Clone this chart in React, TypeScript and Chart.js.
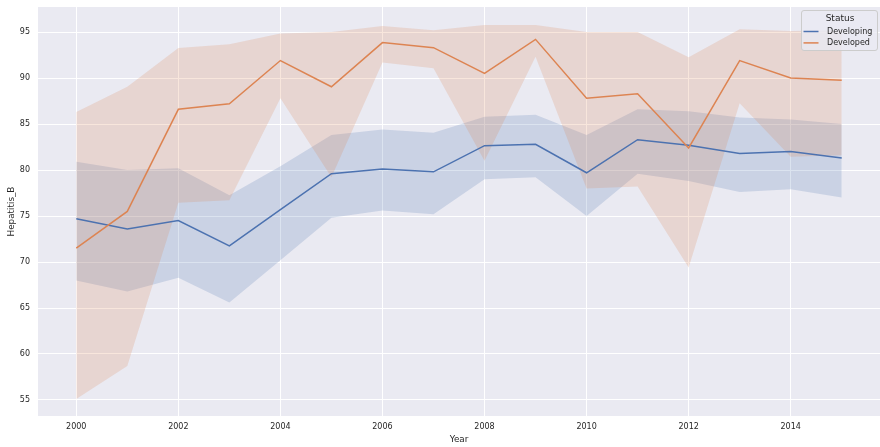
import React, { useEffect, useRef } from "react";
import { Chart, registerables } from "chart.js";

Chart.register(...registerables);

const years = [2000, 2001, 2002, 2003, 2004, 2005, 2006, 2007, 2008, 2009, 2010, 2011, 2012, 2013, 2014, 2015];

const developingMean = [74.7, 73.6, 74.5, 71.75, 75.7, 79.6, 80.1, 79.8, 82.65, 82.8, 79.7, 83.3, 82.7, 81.8, 82.0, 81.3];
const developingLow = [68.0, 66.8, 68.3, 65.6, 70.2, 74.8, 75.6, 75.2, 79.0, 79.2, 75.0, 79.6, 78.8, 77.6, 77.9, 77.0];
const developingHigh = [80.9, 80.0, 80.2, 77.25, 80.4, 83.8, 84.4, 84.05, 85.8, 86.0, 83.8, 86.6, 86.4, 85.7, 85.5, 85.0];

const developedMean = [71.5, 75.5, 86.6, 87.2, 91.9, 89.05, 93.85, 93.3, 90.5, 94.2, 87.8, 88.3, 82.4, 91.9, 90.0, 89.75];
const developedLow = [55.1, 58.7, 76.45, 76.7, 87.8, 79.2, 91.7, 91.05, 81.0, 92.3, 78.0, 78.2, 69.4, 87.25, 81.45, 81.6];
const developedHigh = [86.3, 89.05, 93.26, 93.66, 94.85, 95.0, 95.65, 95.2, 95.76, 95.76, 95.0, 95.0, 92.25, 95.3, 95.1, 95.2];

const seriesNames = ["Developing", "Developed"];
const legendTitle = "Status";
const xTitle = "Year";
const yTitle = "Hepatitis_B";
const xTickValues = [2000, 2002, 2004, 2006, 2008, 2010, 2012, 2014];
const yTickValues = [55, 60, 65, 70, 75, 80, 85, 90, 95];

const BLUE = "#4C72B0";
const ORANGE = "#DD8452";
const BLUE_BAND = "rgba(76,114,176,0.2)";
const ORANGE_BAND = "rgba(221,132,82,0.2)";
const TEXT = "#262626";
const FONT = "'DejaVu Sans', sans-serif";

const pts = (vals: number[]) => years.map((x, i) => ({ x, y: vals[i] }));

const bgPlugin = {
  id: "bgPlugin",
  beforeDraw(chart: any) {
    const { ctx, chartArea, width, height } = chart;
    ctx.save();
    ctx.fillStyle = "#ffffff";
    ctx.fillRect(0, 0, width, height);
    ctx.fillStyle = "#EAEAF2";
    ctx.fillRect(chartArea.left, chartArea.top, chartArea.right - chartArea.left, chartArea.bottom - chartArea.top);
    ctx.restore();
  },
};

const legendPlugin = {
  id: "legendPlugin",
  afterDraw(chart: any) {
    const { ctx, chartArea } = chart;
    const w = 76;
    const h = 40;
    const x = chartArea.right - 3 - w + 0.5;
    const y = chartArea.top + 3 + 0.5;
    ctx.save();
    ctx.beginPath();
    const r = 2.5;
    ctx.moveTo(x + r, y);
    ctx.lineTo(x + w - r, y);
    ctx.arcTo(x + w, y, x + w, y + r, r);
    ctx.lineTo(x + w, y + h - r);
    ctx.arcTo(x + w, y + h, x + w - r, y + h, r);
    ctx.lineTo(x + r, y + h);
    ctx.arcTo(x, y + h, x, y + h - r, r);
    ctx.lineTo(x, y + r);
    ctx.arcTo(x, y, x + r, y, r);
    ctx.closePath();
    ctx.fillStyle = "rgba(234,234,242,0.8)";
    ctx.fill();
    ctx.strokeStyle = "#cccccc";
    ctx.lineWidth = 1;
    ctx.stroke();

    ctx.fillStyle = TEXT;
    ctx.textBaseline = "middle";
    ctx.textAlign = "center";
    ctx.font = `9px ${FONT}`;
    ctx.fillText(legendTitle, x + 38.5, y + 8);

    const colors = [BLUE, ORANGE];
    ctx.font = `8px ${FONT}`;
    ctx.textAlign = "left";
    seriesNames.forEach((name, i) => {
      const ly = y + 21 + i * 11.4;
      ctx.strokeStyle = colors[i];
      ctx.lineWidth = 1.5;
      ctx.beginPath();
      ctx.moveTo(x + 2, ly);
      ctx.lineTo(x + 17, ly);
      ctx.stroke();
      ctx.fillStyle = TEXT;
      ctx.fillText(name, x + 25.5, ly);
    });
    ctx.restore();
  },
};

export default function App() {
  const ref = useRef<HTMLCanvasElement | null>(null);
  useEffect(() => {
    document.body.style.margin = "0";
    const canvas = ref.current;
    if (!canvas) return;
    const chart = new Chart(canvas, {
      type: "line",
      data: {
        datasets: [
          { label: "devLow", data: pts(developingLow), borderWidth: 0, pointRadius: 0, fill: false, order: 3 },
          { label: "devHigh", data: pts(developingHigh), borderWidth: 0, pointRadius: 0, fill: 0, backgroundColor: BLUE_BAND, order: 3 },
          { label: seriesNames[0], data: pts(developingMean), borderColor: BLUE, borderWidth: 1.5, pointRadius: 0, fill: false, order: 1 },
          { label: "dLow", data: pts(developedLow), borderWidth: 0, pointRadius: 0, fill: false, order: 2 },
          { label: "dHigh", data: pts(developedHigh), borderWidth: 0, pointRadius: 0, fill: 3, backgroundColor: ORANGE_BAND, order: 2 },
          { label: seriesNames[1], data: pts(developedMean), borderColor: ORANGE, borderWidth: 1.5, pointRadius: 0, fill: false, order: 0 },
        ] as any,
      },
      options: {
        animation: false,
        responsive: false,
        devicePixelRatio: 1,
        events: [],
        layout: { padding: { top: 7, left: 0, right: 0, bottom: 0 } },
        elements: { line: { tension: 0 } },
        plugins: {
          legend: { display: false },
          tooltip: { enabled: false },
          filler: { drawTime: "beforeDatasetsDraw" } as any,
        },
        scales: {
          x: {
            type: "linear",
            min: 1999.25,
            max: 2015.75,
            afterBuildTicks: (s: any) => {
              s.ticks = xTickValues.map((v) => ({ value: v }));
            },
            afterFit: (s: any) => {
              s.height = 31;
              s.paddingLeft = 0;
              s.paddingRight = 0;
            },
            grid: { color: "#ffffff", lineWidth: 1, drawTicks: false },
            border: { display: false },
            ticks: {
              padding: 6,
              color: TEXT,
              font: { family: FONT, size: 8, lineHeight: 1.2 },
              maxRotation: 0,
              callback: (v: any) => String(v),
            },
            title: {
              display: true,
              text: xTitle,
              color: TEXT,
              font: { family: FONT, size: 8.8, lineHeight: 1.2 },
              padding: { top: 0, bottom: 2.4 },
            },
          },
          y: {
            type: "linear",
            min: 53.26,
            max: 97.72,
            afterBuildTicks: (s: any) => {
              s.ticks = yTickValues.map((v) => ({ value: v }));
            },
            afterFit: (s: any) => {
              s.width = 38;
              s.paddingTop = 0;
              s.paddingBottom = 0;
            },
            grid: { color: "#ffffff", lineWidth: 1, drawTicks: false },
            border: { display: false },
            ticks: {
              padding: 8,
              color: TEXT,
              font: { family: FONT, size: 8, lineHeight: 1.2 },
              callback: (v: any) => String(v),
            },
            title: {
              display: true,
              text: yTitle,
              color: TEXT,
              font: { family: FONT, size: 8.8, lineHeight: 1.2 },
              padding: { top: 6.5, bottom: 0 },
            },
          },
        },
      },
      plugins: [bgPlugin, legendPlugin],
    });
    return () => chart.destroy();
  }, []);
  return <canvas ref={ref} width={880} height={447} style={{ display: "block" }} />;
}
